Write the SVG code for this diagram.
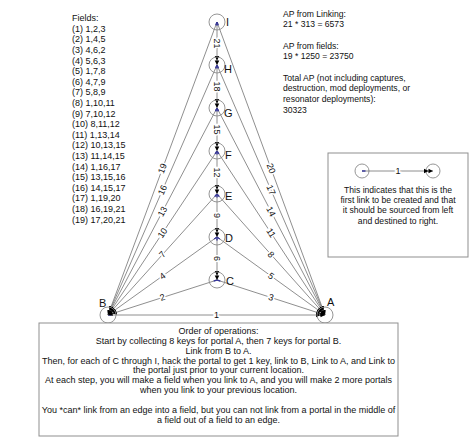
<svg xmlns="http://www.w3.org/2000/svg" width="474" height="440" viewBox="0 0 474 440">
<style>
text{font-family:"Liberation Sans",Arial,sans-serif;fill:#111}
.t9{font-size:9px}
.t85{font-size:8.6px}
.nl{font-size:11px}
.lbl{font-size:9px;text-anchor:middle;stroke:#fff;stroke-width:3;paint-order:stroke;dominant-baseline:central}
.ln{stroke:#6a6a6a;stroke-width:0.75;fill:none;marker-start:url(#src);marker-end:url(#arr)}
.nd{fill:none;stroke:#8a8a8a;stroke-width:0.9}
.box{fill:#fff;stroke:#8f8f8f;stroke-width:1}
.c{text-anchor:middle}
</style>
<defs>
<marker id="arr" markerUnits="userSpaceOnUse" viewBox="0 -3 10 6" markerWidth="10" markerHeight="6" refX="9" refY="0" orient="auto">
<path d="M0,-2.3 L4.5,0 L0,2.3 Z M4.5,-2.3 L9,0 L4.5,2.3 Z" fill="#000"/>
</marker>
<marker id="src" markerUnits="userSpaceOnUse" viewBox="0 -1 4 2" markerWidth="4" markerHeight="2" refX="0" refY="0" orient="auto">
<rect x="0" y="-0.7" width="3.5" height="1.4" fill="#34349a"/>
</marker>
</defs>

<g id="fields-text">
<text class="t9" x="72" y="21.2">Fields:<tspan x="72" dy="10.6">(1) 1,2,3</tspan><tspan x="72" dy="10.6">(2) 1,4,5</tspan><tspan x="72" dy="10.6">(3) 4,6,2</tspan><tspan x="72" dy="10.6">(4) 5,6,3</tspan><tspan x="72" dy="10.6">(5) 1,7,8</tspan><tspan x="72" dy="10.6">(6) 4,7,9</tspan><tspan x="72" dy="10.6">(7) 5,8,9</tspan><tspan x="72" dy="10.6">(8) 1,10,11</tspan><tspan x="72" dy="10.6">(9) 7,10,12</tspan><tspan x="72" dy="10.6">(10) 8,11,12</tspan><tspan x="72" dy="10.6">(11) 1,13,14</tspan><tspan x="72" dy="10.6">(12) 10,13,15</tspan><tspan x="72" dy="10.6">(13) 11,14,15</tspan><tspan x="72" dy="10.6">(14) 1,16,17</tspan><tspan x="72" dy="10.6">(15) 13,15,16</tspan><tspan x="72" dy="10.6">(16) 14,15,17</tspan><tspan x="72" dy="10.6">(17) 1,19,20</tspan><tspan x="72" dy="10.6">(18) 16,19,21</tspan><tspan x="72" dy="10.6">(19) 17,20,21</tspan></text>
</g>

<g id="ap-text">
<text class="t85" x="283" y="16.5">AP from Linking:<tspan x="283" dy="10.7">21 * 313 = 6573</tspan><tspan x="283" dy="21.4">AP from fields:</tspan><tspan x="283" dy="10.7">19 * 1250 = 23750</tspan><tspan x="283" dy="21.4">Total AP (not including captures,</tspan><tspan x="283" dy="10.7">destruction, mod deployments, or</tspan><tspan x="283" dy="10.7">resonator deployments):</tspan><tspan x="283" dy="10.7">30323</tspan></text>
</g>

<g id="connectors">
<line class="ln" x1="108" y1="315" x2="325" y2="315"/>
<line class="ln" x1="217" y1="280" x2="108" y2="315"/>
<line class="ln" x1="217" y1="280" x2="325" y2="315"/>
<line class="ln" x1="217" y1="237" x2="108" y2="315"/>
<line class="ln" x1="217" y1="237" x2="325" y2="315"/>
<line class="ln" x1="217" y1="237" x2="217" y2="280"/>
<line class="ln" x1="217" y1="194" x2="108" y2="315"/>
<line class="ln" x1="217" y1="194" x2="325" y2="315"/>
<line class="ln" x1="217" y1="194" x2="217" y2="237"/>
<line class="ln" x1="217" y1="151" x2="108" y2="315"/>
<line class="ln" x1="217" y1="151" x2="325" y2="315"/>
<line class="ln" x1="217" y1="151" x2="217" y2="194"/>
<line class="ln" x1="217" y1="108" x2="108" y2="315"/>
<line class="ln" x1="217" y1="108" x2="325" y2="315"/>
<line class="ln" x1="217" y1="108" x2="217" y2="151"/>
<line class="ln" x1="217" y1="65" x2="108" y2="315"/>
<line class="ln" x1="217" y1="65" x2="325" y2="315"/>
<line class="ln" x1="217" y1="65" x2="217" y2="108"/>
<line class="ln" x1="217" y1="22" x2="108" y2="315"/>
<line class="ln" x1="217" y1="22" x2="325" y2="315"/>
<line class="ln" x1="217" y1="22" x2="217" y2="65"/>
<text class="lbl" x="216.5" y="315">1</text>
<text class="lbl" transform="translate(162.5,297.5) rotate(-17.8)">2</text>
<text class="lbl" transform="translate(271,297.5) rotate(17.9)">3</text>
<text class="lbl" transform="translate(162.5,276) rotate(-35.6)">4</text>
<text class="lbl" transform="translate(271,276) rotate(35.8)">5</text>
<text class="lbl" transform="translate(217,258.5) rotate(90)">6</text>
<text class="lbl" transform="translate(162.5,254.5) rotate(-48)">7</text>
<text class="lbl" transform="translate(271,254.5) rotate(48.2)">8</text>
<text class="lbl" transform="translate(217,215.5) rotate(90)">9</text>
<text class="lbl" transform="translate(162.5,233) rotate(-56.4)">10</text>
<text class="lbl" transform="translate(271,233) rotate(56.6)">11</text>
<text class="lbl" transform="translate(217,172.5) rotate(90)">12</text>
<text class="lbl" transform="translate(162.5,211.5) rotate(-62.2)">13</text>
<text class="lbl" transform="translate(271,211.5) rotate(62.4)">14</text>
<text class="lbl" transform="translate(217,129.5) rotate(90)">15</text>
<text class="lbl" transform="translate(162.5,190) rotate(-66.4)">16</text>
<text class="lbl" transform="translate(271,190) rotate(66.6)">17</text>
<text class="lbl" transform="translate(217,86.5) rotate(90)">18</text>
<text class="lbl" transform="translate(162.5,168.5) rotate(-69.6)">19</text>
<text class="lbl" transform="translate(271,168.5) rotate(69.8)">20</text>
<text class="lbl" transform="translate(217,43.5) rotate(90)">21</text>
</g>

<g id="node-I"><circle class="nd" cx="217" cy="22" r="8"/><text class="nl" x="226" y="26">I</text></g>
<g id="node-H"><circle class="nd" cx="217" cy="65" r="8"/><text class="nl" x="224" y="73">H</text></g>
<g id="node-G"><circle class="nd" cx="217" cy="108" r="8"/><text class="nl" x="224" y="117">G</text></g>
<g id="node-F"><circle class="nd" cx="217" cy="151" r="8"/><text class="nl" x="225" y="159">F</text></g>
<g id="node-E"><circle class="nd" cx="217" cy="194" r="8"/><text class="nl" x="225" y="200">E</text></g>
<g id="node-D"><circle class="nd" cx="217" cy="237" r="8"/><text class="nl" x="225" y="242">D</text></g>
<g id="node-C"><circle class="nd" cx="217" cy="280" r="8"/><text class="nl" x="226" y="285">C</text></g>
<g id="node-B"><circle class="nd" cx="108" cy="315" r="8"/><text class="nl" x="99" y="307">B</text></g>
<g id="node-A"><circle class="nd" cx="325" cy="315" r="8"/><text class="nl" x="327" y="306">A</text></g>

<g id="legend">
<rect class="box" x="328" y="153" width="140" height="104"/>
<circle class="nd" cx="362" cy="171" r="7"/>
<circle class="nd" cx="433" cy="171" r="7"/>
<line class="ln" x1="362" y1="171" x2="433" y2="171"/>
<text class="lbl" x="398" y="171">1</text>
<text class="t85 c" x="398" y="192.5">This indicates that this is the<tspan x="398" dy="10.4">first link to be created and that</tspan><tspan x="398" dy="10.4">it should be sourced from left</tspan><tspan x="398" dy="10.4">and destined to right.</tspan></text>
</g>

<g id="instructions">
<rect class="box" x="39" y="323" width="359" height="113"/>
<text class="t9 c" x="218.5" y="334">Order of operations:<tspan x="218.5" dy="9.85">Start by collecting 8 keys for portal A, then 7 keys for portal B.</tspan><tspan x="218.5" dy="9.85">Link from B to A.</tspan><tspan x="218.5" dy="9.85">Then, for each of C through I, hack the portal to get 1 key, link to B, Link to A, and Link to</tspan><tspan x="218.5" dy="9.85">the portal just prior to your current location.</tspan><tspan x="218.5" dy="9.85">At each step, you will make a field when you link to A, and you will make 2 more portals</tspan><tspan x="218.5" dy="9.85">when you link to your previous location.</tspan><tspan x="218.5" dy="19.7">You *can* link from an edge into a field, but you can not link from a portal in the middle of</tspan><tspan x="218.5" dy="9.85">a field out of a field to an edge.</tspan></text>
</g>
</svg>
